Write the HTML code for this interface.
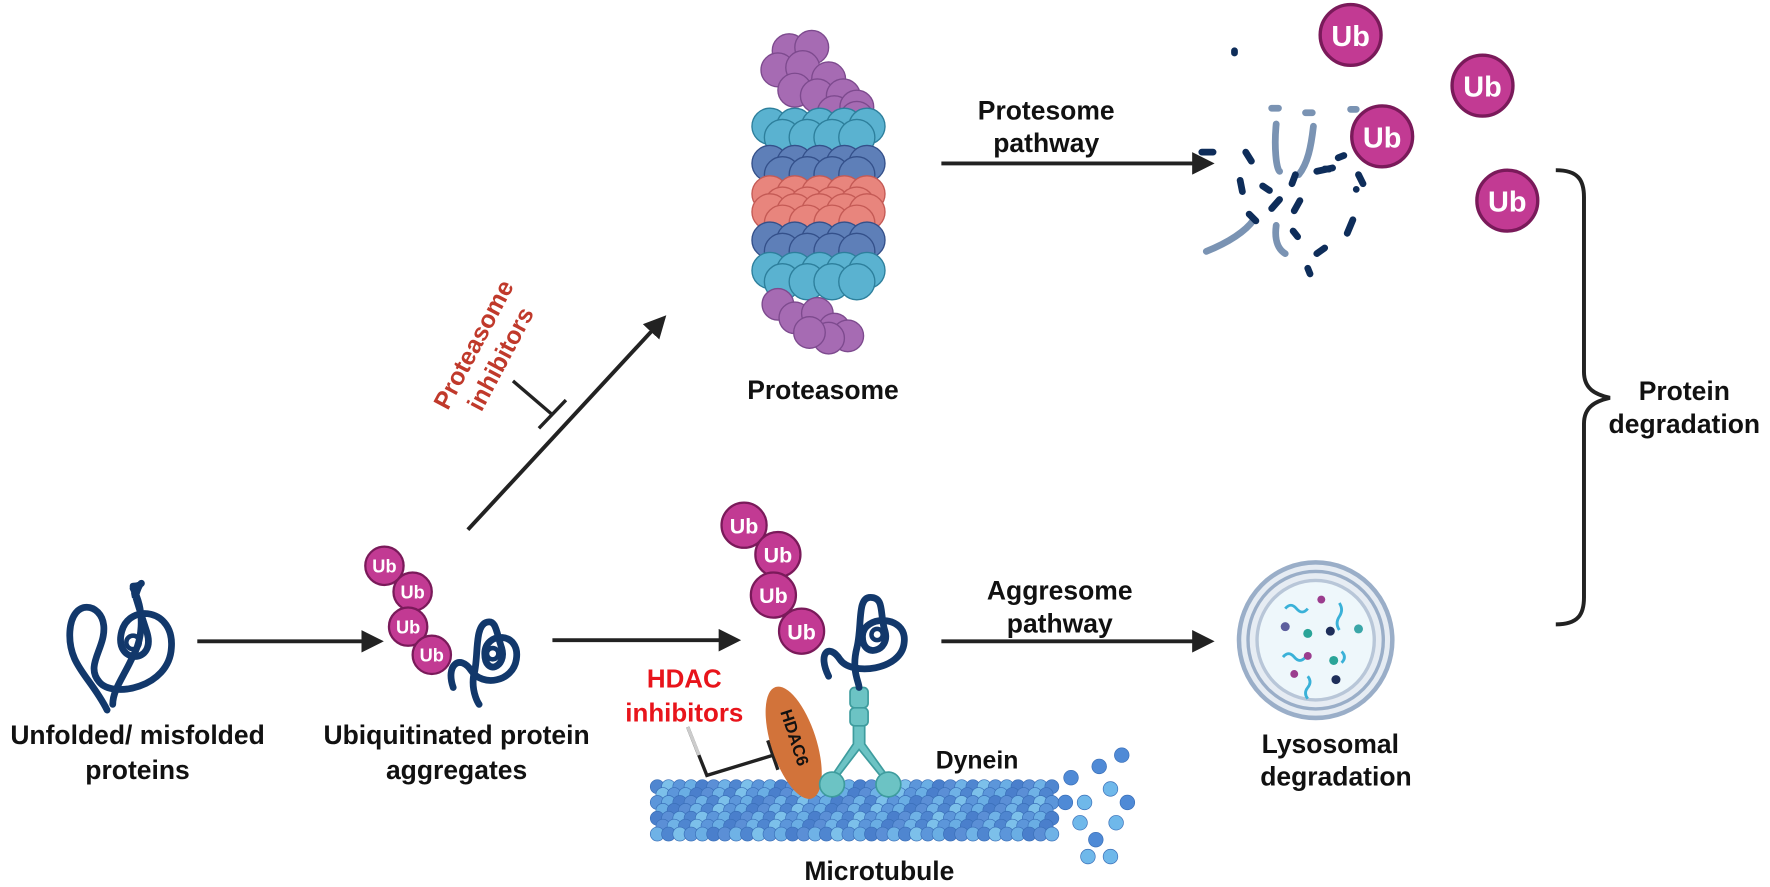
<!DOCTYPE html>
<html><head><meta charset="utf-8"><style>
html,body{margin:0;padding:0;background:#fff;}
svg{display:block;}
text{font-family:"Liberation Sans",Arial,sans-serif;font-weight:bold;}
</style></head><body>
<svg id="s" width="1770" height="887" viewBox="0 0 1570 787" preserveAspectRatio="none" xmlns="http://www.w3.org/2000/svg">
<defs>
<marker id="ah" markerWidth="20" markerHeight="20" refX="14" refY="9" orient="auto" markerUnits="userSpaceOnUse" viewBox="0 0 18 18">
<path d="M0,0 L18,9 L0,18 z" fill="#222"/></marker>
</defs>
<g id="tube"></g>
<g id="prot"></g>

<!-- arrows -->
<g stroke="#222" stroke-width="3.5" fill="none">
<line x1="175" y1="569" x2="336" y2="569" marker-end="url(#ah)"/>
<line x1="490" y1="568" x2="653" y2="568" marker-end="url(#ah)"/>
<line x1="835" y1="569" x2="1073" y2="569" marker-end="url(#ah)"/>
<line x1="835" y1="145" x2="1073" y2="145" marker-end="url(#ah)"/>
<line x1="415" y1="470" x2="588" y2="283" marker-end="url(#ah)"/>
</g>
<!-- proteasome inhibitor T -->
<g stroke="#222" stroke-width="3" fill="none">
<line x1="455" y1="338" x2="490" y2="368"/>
<line x1="478" y1="380" x2="502" y2="355"/>
</g>
<text transform="translate(432,312) rotate(-62)" text-anchor="middle" font-size="22" fill="#c0392b"><tspan x="0" y="-6">Proteasome</tspan><tspan x="0" y="21">inhibitors</tspan></text>

<!-- HDAC inhibitor -->
<path d="M610,645 L627,688 L686,670" stroke="#222" stroke-width="3" fill="none"/>
<line x1="610" y1="645" x2="620" y2="670" stroke="#ccc" stroke-width="3"/>
<line x1="681" y1="657" x2="690" y2="683" stroke="#222" stroke-width="3"/>
<text x="607" y="610" text-anchor="middle" font-size="23" fill="#e8141b">HDAC</text>
<text x="607" y="640" text-anchor="middle" font-size="23" fill="#e8141b">inhibitors</text>

<!-- HDAC6 -->
<ellipse cx="704" cy="659" rx="20" ry="52" transform="rotate(-18 704 659)" fill="#d2733a"/>
<text transform="translate(700,656) rotate(72)" text-anchor="middle" font-size="15" fill="#111" font-weight="bold">HDAC6</text>

<!-- dynein -->
<g fill="#6cc3c4" stroke="#3e9c9e" stroke-width="1.5">
<path d="M757,612 h10 v48 l20,28 l-4,3 l-21,-26 l-20,26 l-4,-3 l19,-28z"/>
<rect x="754" y="610" width="16" height="18" rx="4"/>
<rect x="754" y="628" width="16" height="16" rx="4"/>
<circle cx="738" cy="696" r="11"/>
<circle cx="788" cy="696" r="11"/>
</g>
<text x="830" y="682" font-size="22" fill="#111">Dynein</text>

<!-- proteins -->
<g fill="none" stroke="#12386b" stroke-width="6" stroke-linecap="round">
<path d="M95,630 C80,600 60,590 62,560 C64,530 90,535 92,555 C94,575 75,590 88,605 C100,620 150,610 152,575 C155,540 115,535 108,560 C100,590 140,590 130,560 C120,530 118,520 120,530 C125,510 130,520 118,520"/>
<path d="M118,522 C130,545 125,570 118,582 C110,600 100,612 100,625"/>
<path d="M402,610 C395,590 408,580 418,595 C428,610 455,605 458,585 C462,560 430,560 430,580 C430,600 450,592 445,575 C440,560 440,550 432,552 C420,555 425,585 420,600 C418,615 425,625 425,625"/>
<path d="M735,600 C725,580 735,570 745,585 C755,600 800,595 802,570 C805,545 765,545 765,565 C765,585 790,578 785,560 C780,545 785,530 772,530 C760,530 765,555 760,575 C755,595 762,605 762,610"/>
</g>
<g fill="none" stroke="#12386b" stroke-width="4">
<circle cx="118" cy="570" r="6"/><circle cx="437" cy="580" r="5"/><circle cx="778" cy="563" r="5"/>
</g>

<!-- fragments -->
<g stroke-linecap="round" fill="none">
<g stroke="#7a93b3" stroke-width="6">
<path d="M1070,223 C1090,215 1105,205 1112,195"/>
<path d="M1132,110 C1130,130 1132,150 1135,152"/>
<path d="M1165,112 C1163,130 1160,145 1152,155"/>
<path d="M1132,200 C1130,215 1135,222 1140,225"/>
<path d="M1128,96 h6 M1158,100 h6 M1198,97 h5"/>
</g>
<g stroke="#0e2d5a" stroke-width="6">
<path d="M1066,135 h10 M1105,135 l5,8 M1100,160 l2,10 M1120,165 l6,4 M1146,163 l3,-8 M1135,177 l-7,8 M1153,178 l-5,9 M1168,152 l14,-3 M1175,150 h4 M1205,155 l4,8 M1200,195 l-5,12 M1168,225 l7,-5 M1147,205 l4,5 M1160,238 l2,5 M1108,190 l6,6 M1187,140 l5,-2 M1203,168 v0 M1095,45 v2"/>
</g>
</g>

<g id="ubs"></g>

<!-- lysosome -->
<g>
<ellipse cx="1167" cy="568" rx="68" ry="69" fill="#e6ecf3" stroke="#9aaec8" stroke-width="4"/>
<ellipse cx="1167" cy="568" rx="60" ry="61" fill="none" stroke="#9aaec8" stroke-width="3"/>
<ellipse cx="1167" cy="568" rx="52" ry="53" fill="#eef7fb" stroke="#b8c6d8" stroke-width="3"/>
<g stroke="#3ab1d8" stroke-width="2.5" fill="none">
<path d="M1140,540 q5,-6 10,0 q5,6 10,0"/><path d="M1188,535 q4,6 0,12 q-4,6 0,12"/><path d="M1138,583 q5,-6 10,0 q5,6 10,0"/><path d="M1190,578 q5,5 0,10"/><path d="M1160,600 q4,5 0,10 q-4,5 0,10"/>
</g>
<g><circle cx="1172" cy="532" r="3.5" fill="#9b3d8e"/><circle cx="1140" cy="556" r="4" fill="#5d5f9e"/><circle cx="1160" cy="562" r="4" fill="#2aa498"/><circle cx="1180" cy="560" r="4" fill="#1e2e5a"/><circle cx="1205" cy="558" r="4" fill="#3aa6a8"/><circle cx="1160" cy="582" r="3.5" fill="#9b3d8e"/><circle cx="1183" cy="586" r="4" fill="#2aa498"/><circle cx="1148" cy="598" r="3.5" fill="#9b3d8e"/><circle cx="1185" cy="603" r="4" fill="#1e2e5a"/></g>
</g>

<!-- brace -->
<path d="M1380,151 C1400,151 1405,160 1405,175 L1405,330 C1405,345 1415,350 1428,353 C1415,356 1405,361 1405,376 L1405,530 C1405,545 1400,554 1380,554" fill="none" stroke="#222" stroke-width="3.5"/>

<!-- labels -->
<g font-size="23.5" fill="#111" text-anchor="middle">
<text x="122" y="660">Unfolded/ misfolded</text><text x="122" y="691">proteins</text>
<text x="405" y="660">Ubiquitinated protein</text><text x="405" y="691">aggregates</text>
<text x="730" y="354">Proteasome</text>
<text x="928" y="106">Protesome</text><text x="928" y="135">pathway</text>
<text x="940" y="532">Aggresome</text><text x="940" y="561">pathway</text>
<text x="1180" y="668">Lysosomal</text><text x="1185" y="697">degradation</text>
<text x="1494" y="355">Protein</text><text x="1494" y="384">degradation</text>
<text x="780" y="781">Microtubule</text>
</g>
</svg>
<script>
var NS="http://www.w3.org/2000/svg";
function c(g,x,y,r,f,s,sw){var e=document.createElementNS(NS,"circle");e.setAttribute("cx",x);e.setAttribute("cy",y);e.setAttribute("r",r);e.setAttribute("fill",f);if(s){e.setAttribute("stroke",s);e.setAttribute("stroke-width",sw||1);}g.appendChild(e);return e;}
var t=document.getElementById("tube");
var rows=[698,705,712,719,726,733,740];
var cols=["#5b8fd6","#6fb2e6","#4f86d0","#7cc0ea","#5c96da","#6aaee4","#4a7fcc"];
for(var i=0;i<rows.length;i++){for(var x=583+(i%2)*5;x<938;x+=10){c(t,x,rows[i],6.2,cols[(i+Math.floor(x/10))%7],"#3a6fb8",0.6);}}
var fb=[[950,690],[962,712],[975,680],[985,700],[995,670],[958,730],[972,745],[990,730],[1000,712],[985,760],[945,712],[965,760]];
fb.forEach(function(p,k){c(t,p[0],p[1],6.5,k%2?"#6fb8ea":"#4f8ad6","#3a6fb8",0.6);});
var p=document.getElementById("prot");
function ring(y,col,st){var xs=[683,705,727,749,769];for(var j=0;j<2;j++)for(var k=0;k<xs.length-j;k++){c(p,xs[k]+(j?11:0),y+j*10,16,col,st,1.2);}}
[[700,45],[720,42],[690,62],[712,60],[735,70],[705,80],[725,85],[748,85],[740,100],[760,95],[760,105]].forEach(function(q){c(p,q[0],q[1],15,"#a66bb3","#7d4a8e",1.2);});
ring(112,"#5ab2d0","#2d7f9c");
ring(145,"#5e7fb8","#34508a");
ring(172,"#e8857d","#c45a55");ring(188,"#e8857d","#c45a55");
ring(213,"#5e7fb8","#34508a");
ring(240,"#5ab2d0","#2d7f9c");
[[690,270],[705,282],[725,278],[740,292],[752,298],[735,300],[718,295]].forEach(function(q){c(p,q[0],q[1],14,"#a66bb3","#7d4a8e",1.2);});
var u=document.getElementById("ubs");
function ub(x,y,r){c(u,x,y,r,"#c23a93","#7a1a5a",r>20?3:2);var tx=document.createElementNS(NS,"text");tx.setAttribute("x",x);tx.setAttribute("y",y+r*0.36);tx.setAttribute("text-anchor","middle");tx.setAttribute("font-size",r*0.95);tx.setAttribute("fill","#fff");tx.textContent="Ub";u.appendChild(tx);}
[[341,502],[366,525],[362,556],[383,581]].forEach(function(q){ub(q[0],q[1],17);});
[[660,466],[690,492],[686,528],[711,560]].forEach(function(q){ub(q[0],q[1],20);});
[[1198,31],[1315,76],[1226,121],[1337,178]].forEach(function(q){ub(q[0],q[1],27);});
</script>
</body></html>
